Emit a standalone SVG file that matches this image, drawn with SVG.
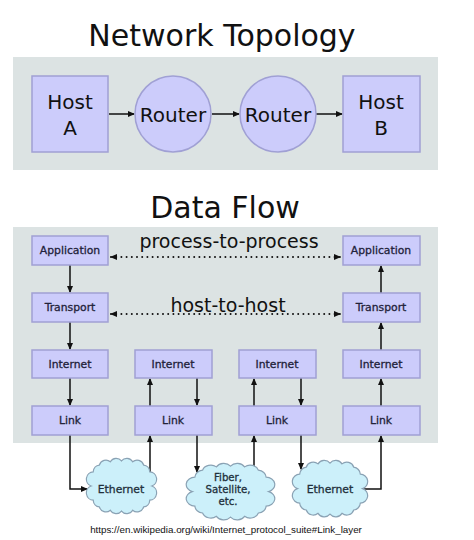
<svg xmlns="http://www.w3.org/2000/svg" width="474" height="540" viewBox="0 0 474 540">
<style>
.panel{fill:#dce3e3}
.box{fill:#ccccfb;stroke:#a0a0d4;stroke-width:1.5}
.cloud{fill:#ccf0fa;stroke:#8aa2b4}
.title{font-family:"DejaVu Sans",sans-serif;font-size:30px;fill:#111;text-anchor:middle}
.big{font-family:"DejaVu Sans",sans-serif;font-size:20px;fill:#111;text-anchor:middle}
.mid{font-family:"DejaVu Sans",sans-serif;font-size:19px;fill:#111;text-anchor:middle}
.sm{font-family:"DejaVu Sans",sans-serif;font-size:10.8px;fill:#22223a;stroke:#22223a;stroke-width:0.3;text-anchor:middle}
.cl{font-family:"DejaVu Sans",sans-serif;font-size:10.8px;fill:#22303c;stroke:#22303c;stroke-width:0.3;text-anchor:middle}
.cl2{font-family:"DejaVu Sans",sans-serif;font-size:10.2px;fill:#22303c;stroke:#22303c;stroke-width:0.3;text-anchor:middle}
.url{font-family:"Liberation Sans",Arial,sans-serif;font-size:9.8px;fill:#111;text-anchor:middle}
.ln{fill:none;stroke:#111;stroke-width:1.5;marker-end:url(#ah)}
.dot{fill:none;stroke:#111;stroke-width:2;stroke-linecap:round;stroke-dasharray:0 5.2;marker-start:url(#ah2);marker-end:url(#ah2)}
</style>
<defs>
<marker id="ah" markerUnits="userSpaceOnUse" markerWidth="7" markerHeight="6" refX="6" refY="3" orient="auto"><path d="M0,0 L7,3 L0,6 z" fill="#111"/></marker>
<marker id="ah2" markerUnits="userSpaceOnUse" markerWidth="7" markerHeight="6" refX="6" refY="3" orient="auto-start-reverse"><path d="M0,0 L7,3 L0,6 z" fill="#111"/></marker>
<path id="cloudshape" vector-effect="non-scaling-stroke" stroke-width="1.2" d="M94,40 A10,10 0 0 1 91,59.5 A10,10 0 0 1 82.1,68.9 A10,10 0 0 1 66.2,73.4 A10,10 0 0 1 50,74.5 A10,10 0 0 1 33.8,73.4 A10,10 0 0 1 17.9,68.9 A10,10 0 0 1 9,59.5 A10,10 0 0 1 6,40 A10,10 0 0 1 9,20.5 A10,10 0 0 1 17.9,11.1 A10,10 0 0 1 33.8,6.6 A10,10 0 0 1 50,5.5 A10,10 0 0 1 66.2,6.6 A10,10 0 0 1 82.1,11.1 A10,10 0 0 1 91,20.5 A10,10 0 0 1 94,40 Z"/>
</defs>
<rect width="474" height="540" fill="#ffffff"/>
<text class="title" x="222" y="46">Network Topology</text>
<rect class="panel" x="13" y="57" width="425" height="113"/>
<text class="title" x="225" y="218">Data Flow</text>
<rect class="panel" x="13" y="227" width="425" height="216"/>

<g id="connectors">
<path class="ln" d="M109,114 H134"/>
<path class="ln" d="M212,114 H239"/>
<path class="ln" d="M316,114 H342"/>
<path class="dot" d="M111,257 H340"/>
<path class="dot" d="M111,314 H340"/>
<path class="ln" d="M70,265 V292"/>
<path class="ln" d="M70,322 V349"/>
<path class="ln" d="M70,378 V405"/>
<path class="ln" d="M381,293 V266"/>
<path class="ln" d="M381,350 V323"/>
<path class="ln" d="M381,406 V379"/>
<path class="ln" d="M150,406 V379"/>
<path class="ln" d="M197,378 V405"/>
<path class="ln" d="M254,406 V379"/>
<path class="ln" d="M301,378 V405"/>
<path class="ln" d="M70,435 V489 H87"/>
<path class="ln" d="M150,475 V436"/>
<path class="ln" d="M197,435 V472"/>
<path class="ln" d="M254,475 V436"/>
<path class="ln" d="M301,435 V469"/>
<path class="ln" d="M360,489 H381 V436"/>
</g>
<text class="mid" x="229" y="248">process-to-process</text>
<text class="mid" x="228" y="312">host-to-host</text>

<g id="hostA"><rect class="box" x="32" y="76" width="76" height="76"/><text class="big" x="70" y="109">Host</text><text class="big" x="70" y="135">A</text></g>
<g id="router1"><circle class="box" cx="173" cy="114" r="38"/><text class="big" x="173" y="122">Router</text></g>
<g id="router2"><circle class="box" cx="278" cy="114" r="38"/><text class="big" x="278" y="122">Router</text></g>
<g id="hostB"><rect class="box" x="343" y="76" width="77" height="76"/><text class="big" x="381" y="109">Host</text><text class="big" x="381" y="135">B</text></g>

<g id="app1"><rect class="box" x="32" y="236" width="76" height="29"/><text class="sm" x="70" y="254">Application</text></g>
<g id="app2"><rect class="box" x="343" y="236" width="77" height="29"/><text class="sm" x="381" y="254">Application</text></g>
<g id="trans1"><rect class="box" x="32" y="293" width="76" height="29"/><text class="sm" x="70" y="311">Transport</text></g>
<g id="trans2"><rect class="box" x="343" y="293" width="77" height="29"/><text class="sm" x="381" y="311">Transport</text></g>
<g id="inet1"><rect class="box" x="32" y="350" width="76" height="28"/><text class="sm" x="70" y="368">Internet</text></g>
<g id="inet2"><rect class="box" x="135" y="350" width="77" height="28"/><text class="sm" x="173" y="368">Internet</text></g>
<g id="inet3"><rect class="box" x="239" y="350" width="77" height="28"/><text class="sm" x="277" y="368">Internet</text></g>
<g id="inet4"><rect class="box" x="343" y="350" width="77" height="28"/><text class="sm" x="381" y="368">Internet</text></g>
<g id="link1"><rect class="box" x="32" y="406" width="76" height="29"/><text class="sm" x="70" y="424">Link</text></g>
<g id="link2"><rect class="box" x="135" y="406" width="77" height="29"/><text class="sm" x="173" y="424">Link</text></g>
<g id="link3"><rect class="box" x="239" y="406" width="77" height="29"/><text class="sm" x="277" y="424">Link</text></g>
<g id="link4"><rect class="box" x="343" y="406" width="77" height="29"/><text class="sm" x="381" y="424">Link</text></g>

<g id="cloud1"><use href="#cloudshape" class="cloud" transform="translate(87,457) scale(0.69,0.725)"/><text class="cl" x="121" y="493">Ethernet</text></g>
<g id="cloud2"><use href="#cloudshape" class="cloud" transform="translate(187,462) scale(0.87,0.74)"/><text class="cl2" x="228" y="481">Fiber,</text><text class="cl2" x="228" y="493">Satellite,</text><text class="cl2" x="228" y="505">etc.</text></g>
<g id="cloud3"><use href="#cloudshape" class="cloud" transform="translate(293,459) scale(0.74,0.74)"/><text class="cl" x="330" y="493">Ethernet</text></g>

<text class="url" x="226" y="533">https://en.wikipedia.org/wiki/Internet_protocol_suite#Link_layer</text>
</svg>
